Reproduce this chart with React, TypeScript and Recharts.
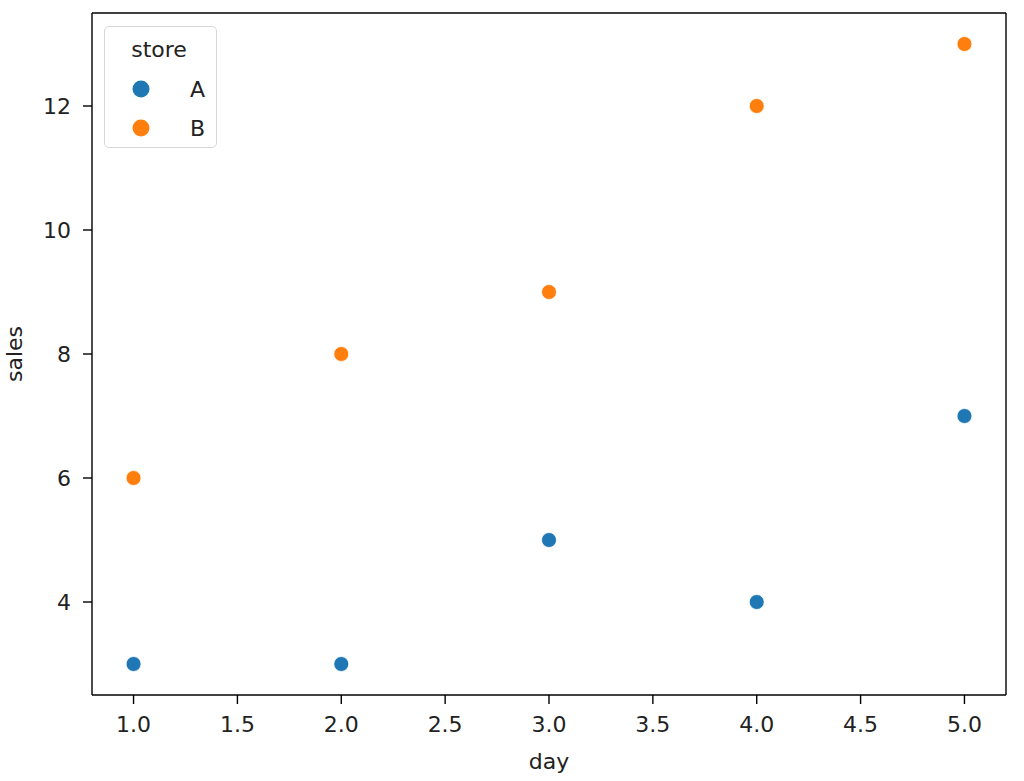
import { ScatterChart, Scatter, XAxis, YAxis, Legend, ReferenceLine } from "recharts";

const storeA = [
  { day: 1, sales: 3 },
  { day: 2, sales: 3 },
  { day: 3, sales: 5 },
  { day: 4, sales: 4 },
  { day: 5, sales: 7 },
];

const storeB = [
  { day: 1, sales: 6 },
  { day: 2, sales: 8 },
  { day: 3, sales: 9 },
  { day: 4, sales: 12 },
  { day: 5, sales: 13 },
];

const xTicks = [1, 1.5, 2, 2.5, 3, 3.5, 4, 4.5, 5];
const yTicks = [4, 6, 8, 10, 12];
const xDomain = [0.8, 5.2];
const yDomain = [2.5, 13.5];

const BLUE = "#1f77b4";
const ORANGE = "#ff7f0e";
const FONT = "DejaVu Sans, sans-serif";
const TEXT = "#222";
const FS = 22;

const dot = (color: string) => (props: any) => (
  <circle cx={props.cx} cy={props.cy} r={7.5} fill={color} stroke="#fff" strokeWidth={0.8} />
);

const LegendBox = () => (
  <div
    style={{
      width: 111,
      height: 120,
      border: "1px solid #d6d6d6",
      borderRadius: 5,
      background: "rgba(255,255,255,0.8)",
    }}
  >
    <svg width={111} height={120} style={{ fontFamily: FONT, fontSize: FS }}>
      <text x={54} y={22} textAnchor="middle" dominantBaseline="central" fill={TEXT}>
        store
      </text>
      <circle cx={36} cy={62} r={8.5} fill={BLUE} />
      <text x={85} y={62} dominantBaseline="central" fill={TEXT}>A</text>
      <circle cx={36} cy={101} r={8.5} fill={ORANGE} />
      <text x={85} y={101} dominantBaseline="central" fill={TEXT}>B</text>
    </svg>
  </div>
);

const App = () => {
  return (
    <div style={{ position: "absolute", left: 0, top: 0, background: "#fff" }}>
      <ScatterChart width={1024} height={781} margin={{ top: 13, right: 18, left: 0, bottom: 0 }}>
        <XAxis
          type="number"
          dataKey="day"
          domain={xDomain}
          ticks={xTicks}
          tickFormatter={(v: number) => v.toFixed(1)}
          height={86}
          tickSize={9}
          tickMargin={12}
          stroke="#000"
          strokeWidth={1.4}
          tick={{ fill: TEXT, fontSize: FS, fontFamily: FONT }}
          allowDataOverflow
          label={{
            content: (p: any) => {
              const vb = p.viewBox;
              return (
                <text
                  x={vb.x + vb.width / 2}
                  y={769}
                  textAnchor="middle"
                  fill={TEXT}
                  fontSize={FS}
                  fontFamily={FONT}
                >
                  day
                </text>
              );
            },
          }}
        />
        <YAxis
          type="number"
          dataKey="sales"
          domain={yDomain}
          ticks={yTicks}
          width={92}
          tickSize={9}
          tickMargin={12}
          stroke="#000"
          strokeWidth={1.4}
          tick={{ fill: TEXT, fontSize: FS, fontFamily: FONT }}
          allowDataOverflow
          label={{
            content: (p: any) => {
              const vb = p.viewBox;
              const cx = vb.x + 14;
              const cy = vb.y + vb.height / 2;
              return (
                <text
                  x={cx}
                  y={cy}
                  transform={`rotate(-90 ${cx} ${cy})`}
                  textAnchor="middle"
                  dominantBaseline="central"
                  fill={TEXT}
                  fontSize={FS}
                  fontFamily={FONT}
                >
                  sales
                </text>
              );
            },
          }}
        />
        <ReferenceLine y={yDomain[1]} stroke="#000" strokeWidth={1.4} />
        <ReferenceLine x={xDomain[1]} stroke="#000" strokeWidth={1.4} />
        <Legend
          layout="vertical"
          align="center"
          verticalAlign="middle"
          wrapperStyle={{ left: 104, top: 26, width: 113, height: 122 }}
          content={() => <LegendBox />}
        />
        <Scatter name="A" data={storeA} fill={BLUE} shape={dot(BLUE)} isAnimationActive={false} />
        <Scatter name="B" data={storeB} fill={ORANGE} shape={dot(ORANGE)} isAnimationActive={false} />
      </ScatterChart>
    </div>
  );
};

export default App;
